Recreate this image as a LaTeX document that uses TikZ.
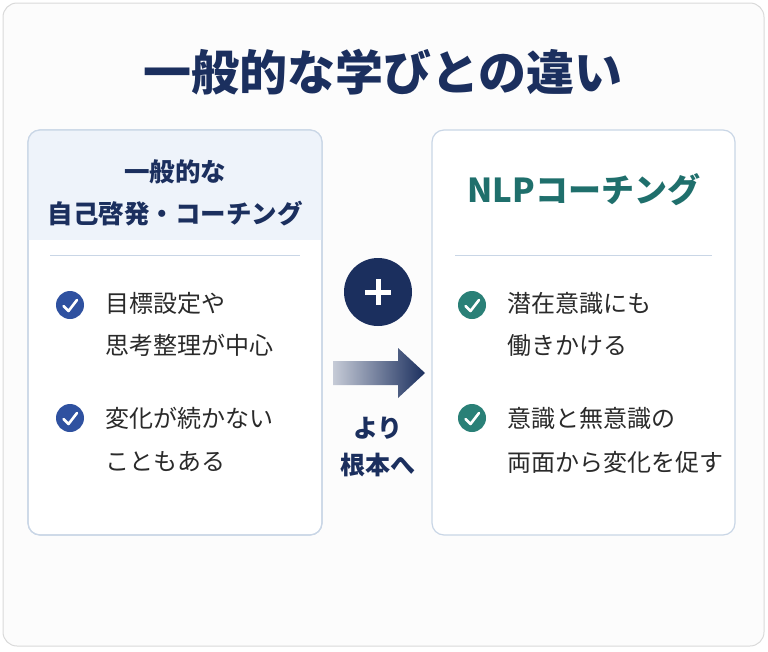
\documentclass[tikz,border=0pt]{standalone}
\usepackage{fontspec}
\newfontfamily\jp{Noto Sans CJK JP}
\usetikzlibrary{arrows.meta}
\definecolor{navy}{HTML}{1B2F5E}
\definecolor{bluec}{HTML}{2F51A0}
\definecolor{tealc}{HTML}{1F6F6C}
\definecolor{tealck}{HTML}{2A8077}
\definecolor{boxline}{HTML}{C9D6E6}
\definecolor{hdrfill}{HTML}{EEF3FA}
\definecolor{txt}{HTML}{2A2A2A}
\tikzset{
  x=1pt,y=-1pt,
  panel/.style={draw=boxline,line width=1.2pt,rounded corners=12pt,fill=white},
  item/.style={anchor=west,font=\jp\fontsize{24}{28}\selectfont,text=txt,inner sep=0},
  chk/.style={circle,minimum size=28pt,inner sep=0},
  hdr/.style={font=\jp\bfseries\fontsize{25.5}{30}\selectfont,inner sep=0}
}
\newcommand\checkmk[1]{\draw[white,line width=2.6pt,line cap=round,line join=round] ([shift={(-6.5,1)}]#1.center) -- ([shift={(-1.5,6)}]#1.center) -- ([shift={(7,-5)}]#1.center);}
\begin{document}
\begin{tikzpicture}
\useasboundingbox (0,0) rectangle (768,651);
\draw[draw=gray!30,fill=gray!2,rounded corners=14pt,line width=1pt] (3,3) rectangle (764,646);
\node[font=\jp\bfseries\fontsize{48}{52}\selectfont,text=navy] (title) at (383,72) {一般的な学びとの違い};
% left panel
\draw[panel] (28,130) rectangle (322,535);
\begin{scope}
\clip[rounded corners=12pt] (28,130) rectangle (322,535);
\fill[hdrfill] (28,130) rectangle (322,240);
\end{scope}
\draw[panel,fill=none] (28,130) rectangle (322,535);
\node[hdr,text=navy] (lh1) at (175,172) {一般的な};
\node[hdr,text=navy] (lh2) at (175,214) {自己啓発・コーチング};
\draw[boxline,line width=1pt] (50,255) -- (300,255);
\node[chk,fill=bluec] (lc1) at (70,305) {}; \checkmk{lc1}
\node[item] (l1a) at (105,303) {目標設定や};
\node[item] (l1b) at (105,345) {思考整理が中心};
\node[chk,fill=bluec] (lc2) at (70,418) {}; \checkmk{lc2}
\node[item] (l2a) at (105,418) {変化が続かない};
\node[item] (l2b) at (105,462) {こともある};
% right panel
\draw[panel] (432,130) rectangle (735,535);
\node[font=\jp\bfseries\fontsize{33}{38}\selectfont,text=tealc] (rh) at (584,190) {NLPコーチング};
\draw[boxline,line width=1pt] (455,255) -- (712,255);
\node[chk,fill=tealck] (rc1) at (472,305) {}; \checkmk{rc1}
\node[item] (r1a) at (507,303) {潜在意識にも};
\node[item] (r1b) at (507,345) {働きかける};
\node[chk,fill=tealck] (rc2) at (472,418) {}; \checkmk{rc2}
\node[item] (r2a) at (507,418) {意識と無意識の};
\node[item] (r2b) at (507,462) {両面から変化を促す};
% middle
\node[circle,fill=navy,minimum size=68pt,inner sep=0] (plus) at (378,292) {};
\draw[white,line width=5pt] (365,292) -- (391,292) (378,279) -- (378,305);
\shade[left color=navy!25,right color=navy] (333,361) -- (398,361) -- (398,348) -- (425,373) -- (398,398) -- (398,385) -- (333,385) -- cycle;
\node[font=\jp\bfseries\fontsize{25}{30}\selectfont,text=navy] (m1) at (378,428) {より};
\node[font=\jp\bfseries\fontsize{25}{30}\selectfont,text=navy] (m2) at (378,465) {根本へ};
\end{tikzpicture}
\end{document}
